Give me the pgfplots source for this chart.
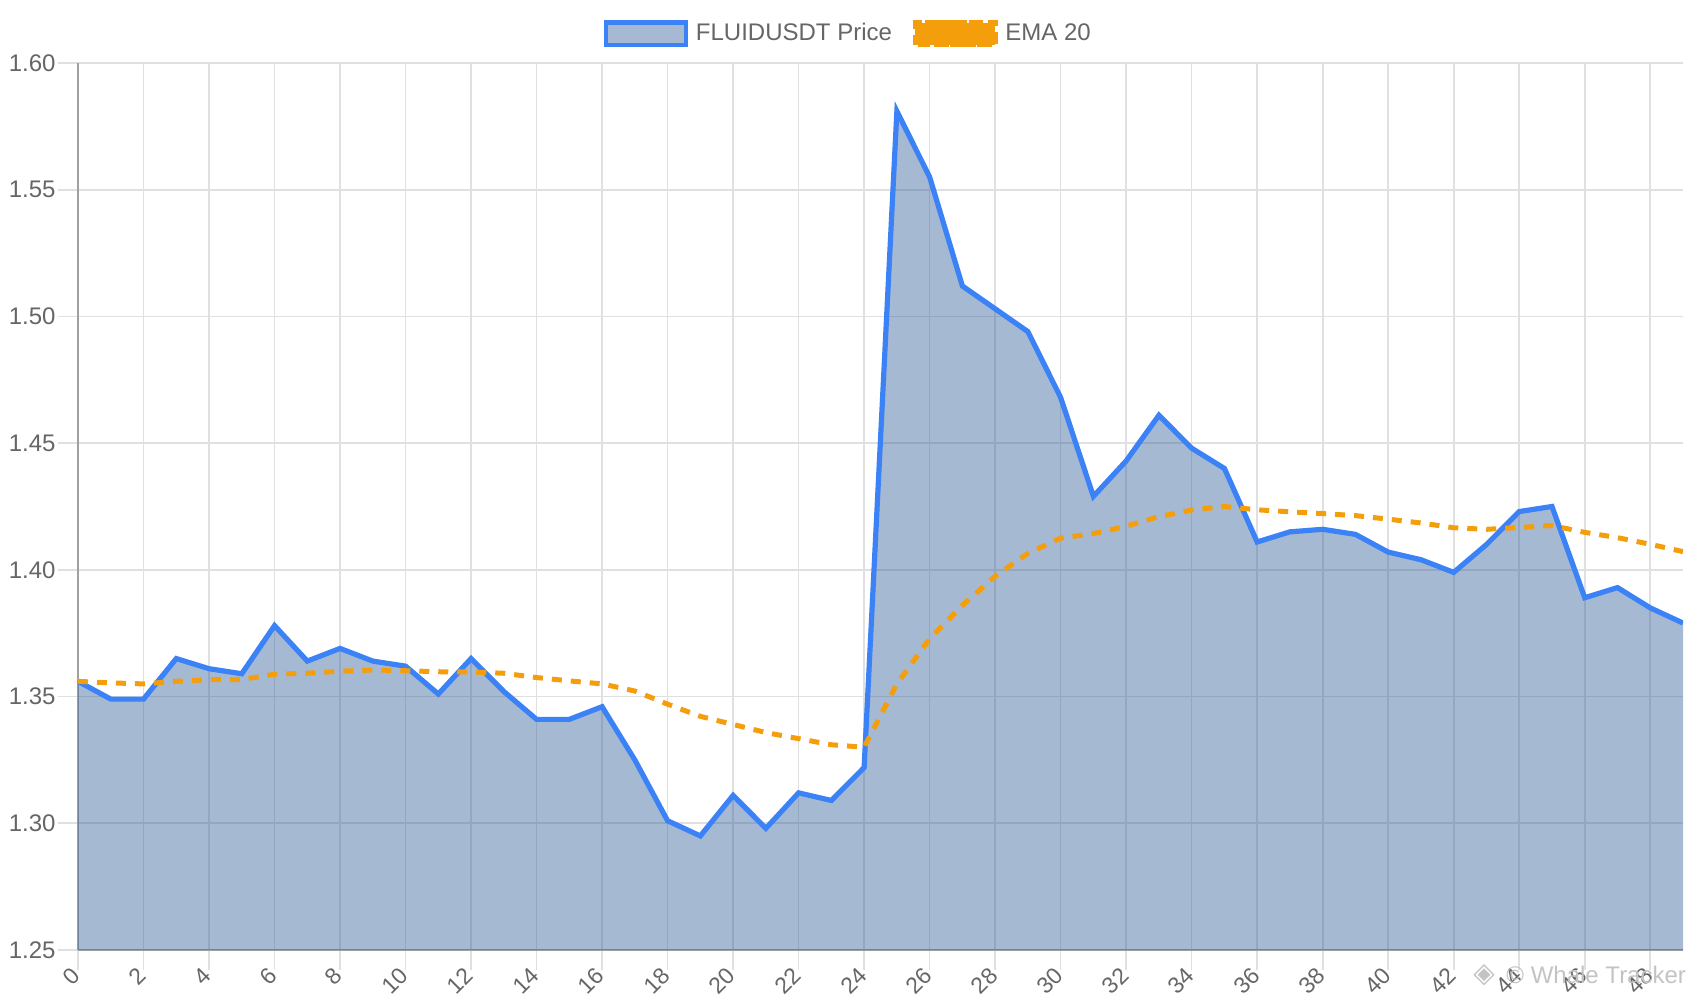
\documentclass[border=0pt]{standalone}
\usepackage{pgfplots}
\pgfplotsset{compat=1.18}
\usepackage{pgfplotstable}
\usepackage{fontspec}
\setmainfont{Liberation Sans}
\newfontfamily\dejavu{DejaVu Sans}
\definecolor{blueline}{RGB}{59,130,246}
\definecolor{fillc}{RGB}{57,99,157}
\definecolor{legfill}{RGB}{166,185,211}
\definecolor{emac}{RGB}{245,158,11}
\definecolor{gridc}{RGB}{224,224,224}
\definecolor{labc}{RGB}{102,102,102}
\definecolor{axisc}{RGB}{160,160,160}
\definecolor{wmc}{RGB}{195,195,195}

\pgfplotstableread{
x y
0 1.356
1 1.349
2 1.349
3 1.365
4 1.361
5 1.359
6 1.378
7 1.364
8 1.369
9 1.364
10 1.362
11 1.351
12 1.365
13 1.352
14 1.341
15 1.341
16 1.346
17 1.325
18 1.301
19 1.295
20 1.311
21 1.298
22 1.312
23 1.309
24 1.322
25 1.581
26 1.555
27 1.512
28 1.503
29 1.494
30 1.468
31 1.429
32 1.443
33 1.461
34 1.448
35 1.440
36 1.411
37 1.415
38 1.416
39 1.414
40 1.407
41 1.404
42 1.399
43 1.410
44 1.423
45 1.425
46 1.389
47 1.393
48 1.385
49 1.379
}\price

\pgfplotstableread{
x y
0 1.3560
1 1.3554
2 1.3550
3 1.3560
4 1.3567
5 1.3567
6 1.3588
7 1.3592
8 1.3600
9 1.3605
10 1.3602
11 1.3598
12 1.3597
13 1.3592
14 1.3575
15 1.3562
16 1.3550
17 1.3522
18 1.3470
19 1.3422
20 1.3390
21 1.3358
22 1.3334
23 1.3310
24 1.3300
25 1.3550
26 1.3728
27 1.3860
28 1.3975
29 1.4065
30 1.4125
31 1.4143
32 1.4172
33 1.4210
34 1.4236
35 1.4250
36 1.4237
37 1.4229
38 1.4222
39 1.4214
40 1.4200
41 1.4185
42 1.4166
43 1.4160
44 1.4167
45 1.4175
46 1.4148
47 1.4127
48 1.4101
49 1.4072
}\ema

\begin{document}
\begin{tikzpicture}
\useasboundingbox (0,0) rectangle (850pt,500pt);
\begin{axis}[
  at={(39pt,25pt)}, anchor=south west,
  width=802.5pt, height=443.5pt, scale only axis,
  xmin=0, xmax=49, ymin=1.25, ymax=1.60,
  xtick={0,2,...,48},
  ytick={1.25,1.30,1.35,1.40,1.45,1.50,1.55,1.60},
  yticklabel style={/pgf/number format/fixed, /pgf/number format/precision=2, /pgf/number format/fixed zerofill},
  /pgf/number format/assume math mode=true,
  axis x line*=bottom, axis y line*=left,
  axis line style={-},
  x axis line style={draw=axisc, line width=0.8pt},
  y axis line style={draw=axisc, line width=0.8pt},
  grid=major,
  major grid style={draw=gridc, line width=0.8pt},
  tick align=outside,
  major tick length=10pt,
  tick style={draw=gridc, line width=0.8pt},
  xticklabel style={font=\fontsize{11.5}{13}\selectfont, text=labc, rotate=45, anchor=east, inner sep=1pt},
  yticklabel style={font=\fontsize{12}{14}\selectfont, text=labc, anchor=east, inner sep=1pt},
  legend style={at={(0.4805,1.033)}, anchor=center, draw=none, fill=none,
    legend columns=2, font=\fontsize{12}{14}\selectfont, text=labc,
    /tikz/every even column/.append style={column sep=8.5pt}},
  legend cell align=left,
]
\addplot[draw=none, fill=fillc, fill opacity=0.45, forget plot] table {\price} \closedcycle;
\addplot[blueline, line width=2.6pt, line join=miter,
  legend image code/.code={\path[draw=none, fill=none] (0pt,0pt) -- (43pt,0pt);
    \draw[fill=legfill, draw=blueline, line width=2.4pt] (0pt,-5.6pt) rectangle (40pt,5.6pt);}]
  table {\price};
\addlegendentry{FLUIDUSDT Price}
\addplot[emac, line width=2.5pt, dash pattern=on 5pt off 4.5pt,
  legend image code/.code={\path[draw=none, fill=none] (0pt,0pt) -- (43pt,0pt);
    \fill[emac] (0pt,-5.6pt) rectangle (40pt,5.6pt);
    \draw[emac, line width=2.3pt, dash pattern=on 5pt off 3pt] (0pt,-5.6pt) rectangle (40pt,5.6pt);}]
  table {\ema};
\addlegendentry{EMA 20}
\end{axis}
\node[text=wmc, font=\dejavu\fontsize{14}{15}\selectfont] at (742pt,12.5pt) {◈};
\node[text=wmc, font=\fontsize{12}{14}\selectfont, anchor=west, inner sep=0pt] at (753pt,12.5pt) {© Whale Tracker};
\end{tikzpicture}
\end{document}
